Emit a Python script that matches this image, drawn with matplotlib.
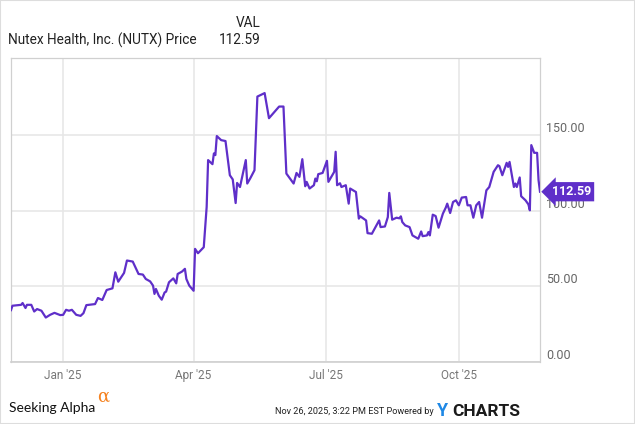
import matplotlib
matplotlib.use("Agg")
import matplotlib.pyplot as plt
import pandas as pd

# daily close
dates = [
    "2024-11-26", "2024-11-27", "2024-12-03", "2024-12-04", "2024-12-06", "2024-12-07",
    "2024-12-10", "2024-12-12", "2024-12-14", "2024-12-17", "2024-12-20", "2024-12-23",
    "2024-12-26", "2024-12-30", "2025-01-01", "2025-01-03", "2025-01-05", "2025-01-07",
    "2025-01-10", "2025-01-13", "2025-01-15", "2025-01-17", "2025-01-23", "2025-01-25",
    "2025-01-28", "2025-01-31", "2025-02-04", "2025-02-06", "2025-02-08", "2025-02-10",
    "2025-02-12", "2025-02-14", "2025-02-18", "2025-02-22", "2025-02-25", "2025-02-27",
    "2025-03-02", "2025-03-04", "2025-03-05", "2025-03-06", "2025-03-08", "2025-03-10",
    "2025-03-12", "2025-03-13", "2025-03-15", "2025-03-18", "2025-03-20", "2025-03-21",
    "2025-03-24", "2025-03-26", "2025-03-27", "2025-03-29", "2025-04-01", "2025-04-02",
    "2025-04-04", "2025-04-08", "2025-04-10", "2025-04-11", "2025-04-14", "2025-04-15",
    "2025-04-16", "2025-04-17", "2025-04-20", "2025-04-23", "2025-04-26", "2025-04-28",
    "2025-04-30", "2025-05-01", "2025-05-03", "2025-05-07", "2025-05-08", "2025-05-10",
    "2025-05-13", "2025-05-15", "2025-05-20", "2025-05-23", "2025-05-30", "2025-06-02",
    "2025-06-04", "2025-06-09", "2025-06-11", "2025-06-13", "2025-06-15", "2025-06-17",
    "2025-06-18", "2025-06-20", "2025-06-23", "2025-06-24", "2025-06-25", "2025-06-26",
    "2025-06-29", "2025-07-02", "2025-07-03", "2025-07-07", "2025-07-08", "2025-07-09",
    "2025-07-11", "2025-07-12", "2025-07-15", "2025-07-17", "2025-07-18", "2025-07-22",
    "2025-07-24", "2025-07-25", "2025-07-29", "2025-07-30", "2025-08-02", "2025-08-07",
    "2025-08-08", "2025-08-11", "2025-08-13", "2025-08-14", "2025-08-16", "2025-08-19",
    "2025-08-21", "2025-08-22", "2025-08-23", "2025-08-25", "2025-08-28", "2025-08-30",
    "2025-09-03", "2025-09-05", "2025-09-06", "2025-09-09", "2025-09-10", "2025-09-11",
    "2025-09-13", "2025-09-15", "2025-09-17", "2025-09-20", "2025-09-22", "2025-09-23",
    "2025-09-25", "2025-09-27", "2025-09-29", "2025-10-01", "2025-10-03", "2025-10-06",
    "2025-10-07", "2025-10-09", "2025-10-11", "2025-10-13", "2025-10-15", "2025-10-17",
    "2025-10-20", "2025-10-22", "2025-10-25", "2025-10-28", "2025-10-29", "2025-10-31",
    "2025-11-03", "2025-11-04", "2025-11-05", "2025-11-08", "2025-11-09", "2025-11-10",
    "2025-11-12", "2025-11-13", "2025-11-16", "2025-11-18", "2025-11-19", "2025-11-20",
    "2025-11-22", "2025-11-24", "2025-11-25", "2025-11-26",
]
prices = [
    34.3, 37.2, 37.8, 39.0, 35.7, 37.8,
    37.8, 33.4, 35.0, 33.9, 29.4, 31.2,
    32.5, 31.0, 31.2, 34.5, 33.9, 34.5,
    31.2, 30.5, 32.3, 37.6, 38.3, 42.3,
    41.0, 47.6, 48.7, 59.3, 53.1, 56.0,
    58.9, 67.1, 66.4, 58.2, 57.8, 54.9,
    53.3, 50.5, 45.0, 48.3, 43.8, 41.2,
    46.0, 46.5, 52.7, 55.3, 52.0, 58.2,
    59.8, 61.6, 54.9, 50.5, 47.1, 74.8,
    71.9, 75.9, 102.5, 133.5, 130.8, 137.9,
    136.8, 149.4, 146.7, 146.1, 123.5, 120.7,
    105.1, 118.4, 115.7, 133.5, 118.0, 121.3,
    126.8, 175.5, 177.8, 161.2, 168.9, 168.9,
    124.6, 118.0, 125.0, 122.4, 134.1, 116.2,
    119.1, 114.7, 116.9, 121.3, 119.5, 124.2,
    125.0, 133.0, 119.1, 125.7, 139.0, 116.9,
    118.2, 115.7, 116.9, 104.7, 114.7, 112.4,
    94.8, 96.3, 93.6, 85.2, 84.8, 93.6,
    89.2, 89.6, 95.8, 111.8, 94.1, 95.4,
    95.0, 96.3, 92.5, 90.3, 89.2, 83.7,
    81.5, 86.3, 83.2, 83.7, 85.9, 83.7,
    97.4, 96.5, 88.8, 98.1, 102.1, 104.7,
    98.5, 105.8, 106.9, 103.6, 108.7, 109.1,
    103.6, 103.6, 95.4, 103.6, 105.8, 95.4,
    113.5, 115.7, 125.7, 130.1, 129.5, 123.5,
    131.7, 129.0, 132.3, 115.7, 118.0, 115.7,
    122.0, 109.6, 106.9, 104.2, 100.3, 143.4,
    138.3, 138.3, 120.2, 112.59,
]
y_ticks = [0, 50, 100, 150]
x_ticks = ["2025-01-01", "2025-04-01", "2025-07-01", "2025-10-01"]
x_labels = ["Jan '25", "Apr '25", "Jul '25", "Oct '25"]

LINE = "#5f2fc9"
GRID = "#e6e6e6"
SPINE = "#d0d0d0"

plt.rcParams["font.family"] = ["Roboto", "DejaVu Sans"]

df = pd.DataFrame({"date": pd.to_datetime(dates), "price": prices})

fig = plt.figure(figsize=(6.35, 4.24), dpi=100)
ax = fig.add_axes([11 / 635, 1 - 362 / 424, 529 / 635, 304 / 424])

ax.plot(df["date"], df["price"], color=LINE, lw=1.6, solid_joinstyle="round", zorder=3)

ax.set_xlim(pd.Timestamp("2024-11-26"), pd.Timestamp("2025-11-26"))
ax.set_ylim(0, 201)

ax.set_xticks(pd.to_datetime(x_ticks))
ax.set_xticklabels(x_labels)
ax.set_yticks(y_ticks)
ax.set_yticklabels([f"{v:.2f}" for v in y_ticks])
ax.yaxis.tick_right()
ax.tick_params(axis="x", length=0, pad=5, labelsize=8.5, labelcolor="#777777")
ax.tick_params(axis="y", length=0, pad=4.5, labelsize=9, labelcolor="#666666")
for lbl in ax.get_yticklabels():
    lbl.set_verticalalignment("bottom")

ax.grid(True, color=GRID, lw=1.1, zorder=0)
for side in ["left", "top", "right"]:
    ax.spines[side].set_color(SPINE)
    ax.spines[side].set_linewidth(0.9)
ax.spines["bottom"].set_color("#cfcfcf")
ax.spines["bottom"].set_linewidth(1.2)

# last price tag
last = df.iloc[-1]
ax.annotate(f"{last['price']:.2f}", xy=(1.0, last["price"]),
            xycoords=("axes fraction", "data"), xytext=(8.5, 0), textcoords="offset points",
            ha="left", va="center", color="white", fontsize=9, fontweight="bold",
            bbox=dict(boxstyle="larrow,pad=0.25", fc=LINE, ec="none"),
            annotation_clip=False, zorder=5)

# header
fig.text(8 / 635, 1 - 40 / 424, "Nutex Health, Inc. (NUTX) Price", ha="left", va="center",
         fontsize=9.8, color="#222222")
fig.text(261 / 635, 1 - 23 / 424, "VAL", ha="right", va="center", fontsize=9.8, color="#222222")
fig.text(261 / 635, 1 - 40 / 424, f"{last['price']:.2f}", ha="right", va="center",
         fontsize=9.8, color="#222222")

# footer
fig.text(9 / 635, 1 - 408 / 424, "Seeking Alpha", ha="left", va="center", fontsize=10,
         family=["Lato", "DejaVu Sans"], color="#111111")
fig.text(97 / 635, 1 - 397 / 424, "α", ha="left", va="center", fontsize=13,
         family=["DejaVu Serif"], color="#f58220")
fig.text(434 / 635, 1 - 411 / 424, "Nov 26, 2025, 3:22 PM EST Powered by", ha="right",
         va="center", fontsize=6.6, color="#222222")
fig.text(437 / 635, 1 - 411 / 424, "Y", ha="left", va="center", fontsize=13,
         fontweight="bold", color="#1e88e5")
fig.text(452 / 635, 1 - 411 / 424, "CHARTS", ha="left", va="center", fontsize=12.5,
         fontweight="bold", color="#1a1a1a")

# outer frame
fig.patches.append(plt.Rectangle((0, 0), 1, 1, transform=fig.transFigure, fill=False,
                                 ec="#dddddd", lw=1.5))

fig.savefig("out.png", dpi=100)
